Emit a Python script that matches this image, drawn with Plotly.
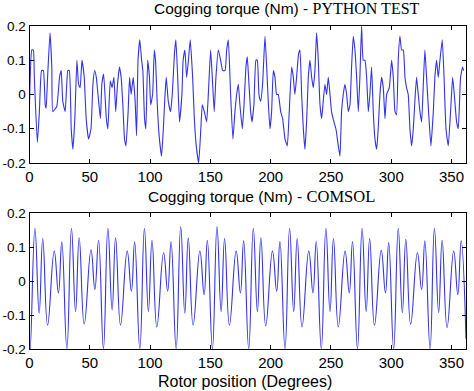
import plotly.graph_objects as go

# ---- data ----
top_deg = [0.0, 1.9, 3.2, 4.0, 6.5, 8.2, 10.0, 11.5, 13.0, 13.8, 15.0, 17.0, 18.5, 19.3, 22.6,
           24.9, 26.3, 27.6, 29.6, 31.8, 33.0, 34.6, 36.0, 37.6, 39.3, 40.7, 42.0, 43.5, 45.4,
           47.0, 49.0, 51.0, 52.6, 54.0, 55.4, 56.8, 58.8, 60.0, 61.5, 63.7, 65.0, 67.0, 68.5,
           70.0, 71.5, 73.0, 74.6, 76.0, 77.4, 78.8, 80.0, 81.8, 83.0, 84.3, 86.0, 87.6, 88.8,
           90.0, 91.5, 93.0, 94.0, 95.4, 96.5, 98.0, 99.5, 100.5, 102.1, 103.5, 104.5, 106.0,
           107.5, 109.5, 111.0, 112.4, 113.4, 115.1, 117.0, 118.4, 120.2, 121.4, 122.9, 124.4,
           126.4, 127.4, 128.9, 130.3, 131.8, 133.3, 135.3, 136.7, 138.3, 140.3, 142.1, 143.3,
           145.0, 146.9, 148.3, 150.2, 151.6, 153.2, 154.6, 156.6, 158.5, 160.2, 162.2, 163.5,
           164.9, 166.8, 168.7, 170.4, 171.8, 173.2, 174.5, 176.5, 177.9, 179.5, 180.6, 181.7,
           183.4, 184.5, 186.1, 187.8, 188.9, 190.3, 191.7, 193.3, 195.3, 196.7, 198.0, 199.4,
           200.8, 202.2, 203.6, 204.9, 206.3, 208.3, 209.9, 211.9, 213.8, 215.4, 217.4, 218.8,
           220.1, 221.5, 223.2, 224.3, 225.7, 227.1, 228.4, 229.8, 231.2, 232.6, 234.0, 235.4,
           236.7, 238.1, 239.5, 240.9, 242.3, 243.6, 245.0, 246.4, 247.8, 249.2, 250.5, 252.5,
           254.1, 256.1, 257.5, 258.8, 260.2, 261.6, 263.0, 264.4, 265.8, 267.1, 268.5, 269.9,
           271.3, 272.7, 274.0, 275.4, 276.8, 278.2, 279.6, 281.0, 282.3, 283.7, 285.1, 286.5,
           287.9, 289.2, 290.6, 292.0, 293.4, 294.8, 296.2, 298.4, 300.3, 301.7, 303.1, 304.4,
           305.8, 307.2, 308.6, 310.0, 311.4, 312.7, 314.1, 315.5, 316.9, 318.3, 319.6, 321.0,
           322.4, 323.8, 325.2, 326.6, 327.9, 329.3, 331.3, 332.9, 334.9, 336.2, 337.6, 339.0,
           340.4, 342.3, 343.7, 345.4, 347.3, 349.2, 350.9, 352.3, 354.2, 355.6, 357.5, 359.2,
           360.0]
top_torque = [-0.03, 0.13, 0.13, 0.05, -0.14, -0.05, 0.07, 0.07, -0.03, -0.04, 0.05, 0.18, 0.08, -0.05, -0.035,
              0.05, 0.07, -0.02, -0.05, 0.07, 0.07, -0.10, -0.16, -0.07, 0.10, 0.03, 0.02, 0.10, 0.05,
              -0.07, -0.13, -0.10, 0.03, 0.07, 0.05, 0.00, -0.07, 0.03, 0.06, -0.07, -0.10, 0.04, 0.02,
              0.05, -0.05, 0.03, 0.08, 0.05, -0.03, -0.13, -0.15, -0.05, 0.05, 0.00, 0.05, -0.02, -0.12,
              0.10, 0.16, 0.10, 0.07, -0.07, -0.10, 0.10, 0.05, -0.03, 0.00, 0.13, 0.10, -0.03,
              -0.12, -0.18, -0.10, 0.00, 0.05, -0.02, -0.05, 0.00, 0.12, 0.16, 0.05, -0.08,
              0.00, 0.10, 0.13, 0.05, 0.10, 0.16, 0.05, -0.07, -0.15, -0.20, -0.10, -0.03,
              -0.05, -0.08, 0.00, 0.13, 0.05, -0.05, 0.05, 0.13, 0.10, 0.07, 0.07, 0.13,
              0.16, 0.00, -0.13, -0.05, 0.00, 0.03, -0.03, -0.10, -0.03, 0.08, 0.11, 0.05,
              -0.05, -0.08, -0.03, 0.10, 0.10, 0.00, -0.02, 0.03, 0.17, 0.08, -0.02, -0.10,
              -0.05, 0.07, 0.05, 0.00, 0.00, -0.05, -0.07, -0.13, -0.15, -0.05, 0.08, 0.05,
              0.00, 0.05, 0.12, 0.13, 0.00, -0.10, -0.16, -0.08, 0.05, 0.10, 0.05, 0.02,
              0.07, 0.18, 0.10, -0.03, -0.07, -0.02, 0.03, 0.00, 0.05, 0.00, -0.05, -0.08,
              -0.10, -0.15, -0.18, -0.05, 0.00, 0.03, 0.00, -0.05, -0.03, 0.08, 0.17, 0.13,
              0.05, -0.05, 0.05, 0.20, 0.10, 0.10, 0.05, -0.05, 0.00, 0.08, -0.05, -0.13,
              -0.16, -0.10, 0.00, 0.05, 0.02, -0.07, 0.00, 0.02, 0.10, 0.05, -0.05, -0.06,
              0.10, 0.17, 0.13, 0.13, 0.05, 0.02, 0.00, -0.10, -0.15, -0.10, -0.02, 0.05,
              0.00, -0.05, -0.08, 0.03, 0.13, 0.05, -0.07, -0.15, -0.05, 0.05, 0.10, 0.05,
              0.10, 0.16, 0.06, -0.10, -0.15, -0.05, 0.05, 0.00, -0.08, -0.10, 0.05, 0.08,
              0.07]

bot_deg = [0.0, 0.5, 4.5, 8.0, 11.0, 15.0, 20.5, 24.0, 26.8,
           31.0, 34.8, 38.2, 41.2, 45.4, 51.0, 54.2, 57.3,
           61.3, 65.0, 68.5, 71.4, 75.5, 81.0, 84.5, 87.2,
           91.5, 95.3, 98.6, 101.6, 105.6, 111.2, 114.6, 117.4,
           121.6, 125.4, 128.8, 131.7, 135.7, 141.3, 144.8, 147.5,
           151.7, 155.5, 158.9, 161.8, 165.8, 171.4, 174.9, 177.6,
           181.8, 185.6, 189.0, 191.9, 195.9, 201.5, 205.0, 207.7,
           211.9, 215.7, 219.1, 222.0, 226.0, 231.6, 235.1, 237.8,
           242.0, 245.8, 249.2, 252.1, 256.1, 261.7, 265.2, 267.9,
           272.0, 275.8, 279.2, 282.1, 286.1, 291.7, 295.2, 297.9,
           302.0, 305.8, 309.2, 312.1, 316.1, 321.7, 325.2, 327.9,
           332.2, 335.8, 339.3, 342.2, 346.3, 351.8, 355.2, 358.0,
           362.0]
bot_torque = [-0.19, -0.20, 0.155, -0.095, 0.125, -0.130, 0.088, -0.035, 0.115,
              -0.20, 0.155, -0.090, 0.127, -0.127, 0.092, -0.025, 0.120,
              -0.20, 0.155, -0.085, 0.127, -0.130, 0.088, -0.030, 0.115,
              -0.20, 0.155, -0.090, 0.120, -0.135, 0.083, -0.030, 0.115,
              -0.20, 0.160, -0.095, 0.127, -0.130, 0.088, -0.040, 0.120,
              -0.20, 0.160, -0.090, 0.125, -0.130, 0.088, -0.035, 0.118,
              -0.20, 0.155, -0.090, 0.127, -0.132, 0.088, -0.030, 0.116,
              -0.20, 0.155, -0.090, 0.125, -0.135, 0.088, -0.035, 0.116,
              -0.20, 0.155, -0.090, 0.125, -0.135, 0.088, -0.035, 0.116,
              -0.20, 0.155, -0.090, 0.125, -0.130, 0.090, -0.035, 0.113,
              -0.20, 0.155, -0.093, 0.123, -0.127, 0.083, -0.025, 0.118,
              -0.20, 0.155, -0.093, 0.120, -0.137, 0.088, -0.040, 0.118,
              -0.17]

x_ticks = [0, 50, 100, 150, 200, 250, 300, 350]
x_labels = ["0", "50", "100", "150", "200", "250", "300", "350"]
y_ticks = [-0.2, -0.1, 0, 0.1, 0.2]
y_labels = ["-0.2", "-0.1", "0", "0.1", "0.2"]

LINE = "rgb(50,50,235)"
W, H = 474, 391

fig = go.Figure()
fig.add_trace(go.Scatter(x=top_deg, y=top_torque, mode="lines",
                         line=dict(color=LINE, width=1.1, shape="spline", smoothing=0.4),
                         xaxis="x", yaxis="y", showlegend=False, hoverinfo="skip"))
fig.add_trace(go.Scatter(x=bot_deg, y=bot_torque, mode="lines",
                         line=dict(color=LINE, width=1.1, shape="spline", smoothing=1.3),
                         xaxis="x2", yaxis="y2", showlegend=False, hoverinfo="skip"))

xd = [29.5 / W, 466 / W]
common_x = dict(range=[0, 362], tickmode="array", tickvals=x_ticks, ticktext=x_labels,
                ticks="inside", ticklen=4, tickcolor="black", showline=True, linecolor="black",
                linewidth=1, mirror="ticks", showgrid=False, zeroline=False, automargin=False,
                tickfont=dict(family="Liberation Sans, Arial", size=15, color="black"))
common_y = dict(range=[-0.2, 0.2], tickmode="array", tickvals=y_ticks, ticktext=y_labels,
                ticks="inside", ticklen=4, tickcolor="black", showline=True, linecolor="black",
                linewidth=1, mirror="ticks", showgrid=False, zeroline=False, automargin=False,
                tickfont=dict(family="Liberation Sans, Arial", size=13.5, color="black"))

fig.update_layout(
    width=W, height=H, margin=dict(l=0, r=0, t=0, b=0),
    paper_bgcolor="white", plot_bgcolor="white",
    xaxis=dict(domain=xd, anchor="y", **common_x),
    yaxis=dict(domain=[1 - 163 / H, 1 - 26 / H], anchor="x", **common_y),
    xaxis2=dict(domain=xd, anchor="y2", **common_x),
    yaxis2=dict(domain=[1 - 349 / H, 1 - 213 / H], anchor="x2", **common_y),
    annotations=[
        dict(text="Cogging torque (Nm) - <span style='font-family:Liberation Serif, Times New Roman;font-size:16px'>PYTHON TEST</span>",
             x=151.7 / W, y=1 - 9 / H, xref="paper", yref="paper", xanchor="left", yanchor="middle",
             showarrow=False, font=dict(family="Liberation Sans, Arial", size=15.5, color="black")),
        dict(text="Cogging torque (Nm) - <span style='font-family:Liberation Serif, Times New Roman;font-size:16.5px'>COMSOL</span>",
             x=145.7 / W, y=1 - 196 / H, xref="paper", yref="paper", xanchor="left", yanchor="middle",
             showarrow=False, font=dict(family="Liberation Sans, Arial", size=15.5, color="black")),
        dict(text="Rotor position (Degrees)",
             x=244.7 / W, y=1 - 381 / H, xref="paper", yref="paper", xanchor="center", yanchor="middle",
             showarrow=False, font=dict(family="Liberation Sans, Arial", size=16, color="black")),
    ],
)

fig.write_html("out.html", config={"displayModeBar": False, "staticPlot": True},
               post_script="document.body.style.margin='0';document.body.style.overflow='hidden';")
